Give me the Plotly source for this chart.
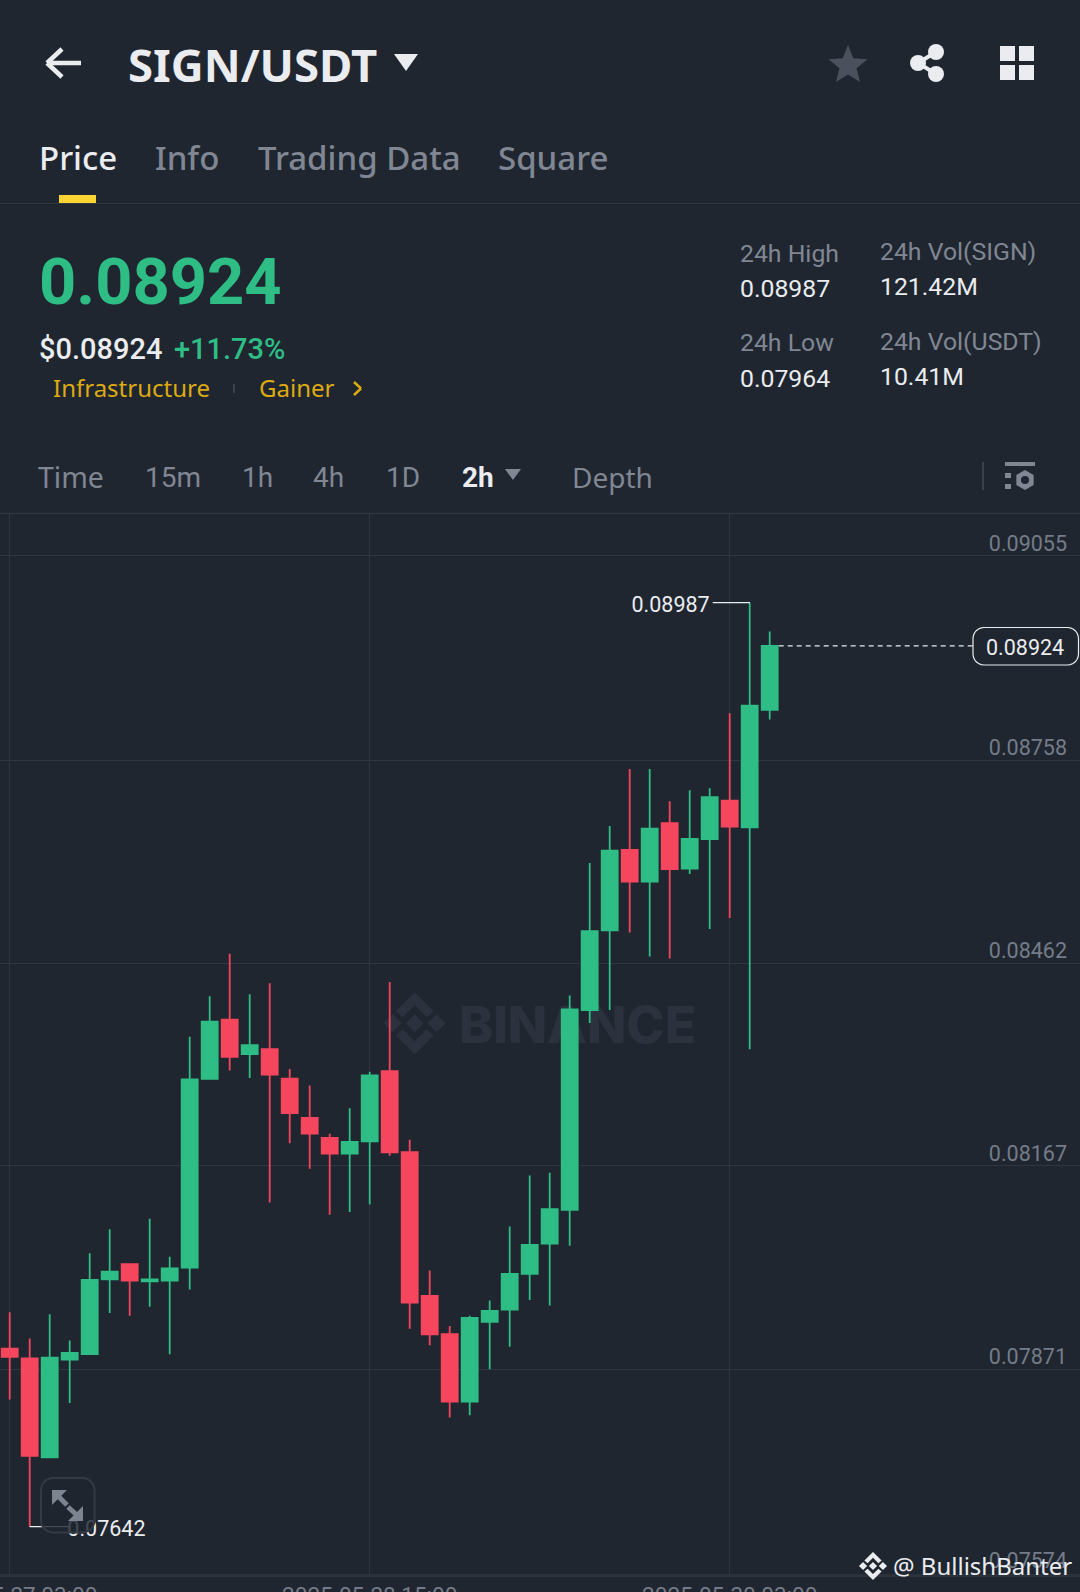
import math
import pandas as pd
import plotly.graph_objects as go

W, H = 1080, 1592
BG = "#1F2630"
GREEN = "#2EBD85"
RED = "#F6465D"
GRID = "#2F3640"
GRAY = "#808793"
AXIS_GRAY = "#757C88"
WHITE = "#EAECEF"
GOLD = "#DDAA10"
NOTO = "Noto Sans"

times = [t.strftime("%Y-%m-%d %H:%M") for t in pd.date_range("2025-05-27 03:00", periods=39, freq="2h")]
opens = [0.07901, 0.07887, 0.07743, 0.07885, 0.07893, 0.08002, 0.08024, 0.07999, 0.08000, 0.08019,
         0.08294, 0.08380, 0.08330, 0.08337, 0.08294, 0.08237, 0.08208, 0.08185, 0.08203, 0.08305,
         0.08187, 0.07978, 0.07922, 0.07824, 0.07940, 0.07958, 0.08010, 0.08054, 0.08103, 0.08394,
         0.08510, 0.08627, 0.08581, 0.08666, 0.08600, 0.08643, 0.08699, 0.08660, 0.08831]
closes = [0.07889, 0.07745, 0.07888, 0.07895, 0.08001, 0.08013, 0.08000, 0.08002, 0.08018, 0.08293,
          0.08377, 0.08326, 0.08343, 0.08300, 0.08244, 0.08214, 0.08185, 0.08202, 0.08299, 0.08187,
          0.07968, 0.07922, 0.07824, 0.07946, 0.07956, 0.08010, 0.08052, 0.08104, 0.08395, 0.08509,
          0.08626, 0.08581, 0.08658, 0.08599, 0.08643, 0.08704, 0.08661, 0.08837, 0.08924]
highs = [0.07954, 0.07916, 0.07951, 0.07913, 0.08040, 0.08075, 0.08024, 0.08090, 0.08035, 0.08355,
         0.08414, 0.08476, 0.08417, 0.08433, 0.08308, 0.08284, 0.08214, 0.08251, 0.08304, 0.08435,
         0.08205, 0.08015, 0.07934, 0.07949, 0.07971, 0.08079, 0.08153, 0.08157, 0.08415, 0.08608,
         0.08662, 0.08745, 0.08745, 0.08698, 0.08714, 0.08717, 0.08826, 0.08987, 0.08945]
lows = [0.07827, 0.07642, 0.07743, 0.07822, 0.07893, 0.07953, 0.07949, 0.07962, 0.07893, 0.07987,
        0.08294, 0.08306, 0.08295, 0.08114, 0.08200, 0.08163, 0.08096, 0.08100, 0.08111, 0.08182,
        0.07930, 0.07906, 0.07801, 0.07804, 0.07871, 0.07904, 0.07972, 0.07964, 0.08051, 0.08375,
        0.08394, 0.08507, 0.08472, 0.08469, 0.08592, 0.08512, 0.08528, 0.08337, 0.08817]

price_ticks = [0.07574, 0.07871, 0.08167, 0.08462, 0.08758, 0.09055]
price_tick_text = ["0.07574", "0.07871", "0.08167", "0.08462", "0.08758", "0.09055"]
time_ticks = [times[0], times[18], times[36]]
last_price = 0.08924
high_price = 0.08987
low_price = 0.07642


def px(x):
    return x / W


def py(y):
    return 1 - y / H


def poly(points):
    return "M" + " L".join(f"{px(a):.5f},{py(b):.5f}" for a, b in points) + " Z"


def rounded(x0, y0, x1, y1, r):
    n = 6
    pts = []
    for cx, cy, start in [(x1 - r, y0 + r, -90), (x1 - r, y1 - r, 0), (x0 + r, y1 - r, 90), (x0 + r, y0 + r, 180)]:
        for i in range(n + 1):
            a = math.radians(start + 90 * i / n)
            pts.append((cx + r * math.cos(a), cy + r * math.sin(a)))
    return poly(pts)


shapes = []
annots = []


def fill(points, color, layer="above"):
    shapes.append(dict(type="path", path=poly(points), xref="paper", yref="paper",
                       fillcolor=color, line=dict(width=0), layer=layer))


def seg(x0, y0, x1, y1, color, width=1, dash="solid"):
    shapes.append(dict(type="line", xref="paper", yref="paper", x0=px(x0), y0=py(y0), x1=px(x1), y1=py(y1),
                       line=dict(color=color, width=width, dash=dash), layer="above"))


def dot(cx, cy, r, color):
    shapes.append(dict(type="circle", xref="paper", yref="paper", x0=px(cx - r), x1=px(cx + r),
                       y0=py(cy - r), y1=py(cy + r), fillcolor=color, line=dict(width=0), layer="above"))


def text(x, y, s, size, color, weight=400, anchor="left", family="Roboto"):
    annots.append(dict(x=px(x), y=py(y), xref="paper", yref="paper", text=s, showarrow=False,
                       xanchor=anchor, yanchor="middle", borderpad=0,
                       font=dict(size=size, color=color, family=family, weight=weight)))


def logo(cx, cy, s, color, layer):
    k = s / 31
    fill([(cx, cy - 9 * k), (cx + 9 * k, cy), (cx, cy + 9 * k), (cx - 9 * k, cy)], color, layer)
    fill([(cx - 31 * k, cy), (cx - 22 * k, cy - 9 * k), (cx - 13 * k, cy), (cx - 22 * k, cy + 9 * k)], color, layer)
    fill([(cx + 31 * k, cy), (cx + 22 * k, cy - 9 * k), (cx + 13 * k, cy), (cx + 22 * k, cy + 9 * k)], color, layer)
    fill([(cx, cy - 31 * k), (cx + 19 * k, cy - 12 * k), (cx + 12 * k, cy - 6 * k), (cx, cy - 18 * k),
          (cx - 12 * k, cy - 6 * k), (cx - 19 * k, cy - 12 * k)], color, layer)
    fill([(cx, cy + 31 * k), (cx + 19 * k, cy + 12 * k), (cx + 12 * k, cy + 6 * k), (cx, cy + 18 * k),
          (cx - 12 * k, cy + 6 * k), (cx - 19 * k, cy + 12 * k)], color, layer)


# header chrome
seg(47, 63, 81, 63, WHITE, 4.5)
seg(62, 49, 47, 63, WHITE, 4.5)
seg(47, 63, 62, 77, WHITE, 4.5)
text(127, 64, "SIGN/USDT", 45.5, WHITE, 700, family=NOTO)
fill([(394, 54), (418, 54), (406, 71)], WHITE)
star = []
for i in range(10):
    r = 20.5 if i % 2 == 0 else 9
    a = math.radians(-90 + 36 * i)
    star.append((848 + r * math.cos(a), 65.5 + r * math.sin(a)))
fill(star, "#4A515C")
seg(918, 63, 936, 52, WHITE, 4)
seg(918, 63, 936, 74, WHITE, 4)
dot(918, 63, 8, WHITE)
dot(936, 52, 8, WHITE)
dot(936, 74, 8, WHITE)
for x0 in (1000, 1019):
    for y0 in (46, 65):
        fill([(x0, y0), (x0 + 15, y0), (x0 + 15, y0 + 15), (x0, y0 + 15)], WHITE)

text(38, 157, "Price", 33, WHITE, 500, family=NOTO)
text(154, 157, "Info", 33, GRAY, 500, family=NOTO)
text(257, 157, "Trading Data", 33, GRAY, 500, family=NOTO)
text(497, 157, "Square", 33, GRAY, 500, family=NOTO)
fill([(59, 195), (96, 195), (96, 203), (59, 203)], "#FCD535")
seg(0, 203.5, W, 203.5, GRID, 1)

text(38, 282, "0.08924", 65, GREEN, 700)
text(38, 349, "$0.08924", 29, WHITE, 500)
text(173, 349, "+11.73%", 29, GREEN, 500)
text(52, 387, "Infrastructure", 24, GOLD, family=NOTO)
seg(234, 384, 234, 393, "#3A414C", 2)
text(258, 387, "Gainer", 24, GOLD, family=NOTO)
seg(354, 382, 361, 388.5, GOLD, 2.5)
seg(361, 388.5, 354, 395, GOLD, 2.5)

text(739, 253, "24h High", 24.8, GRAY)
text(739, 288, "0.08987", 24.8, WHITE)
text(739, 343, "24h Low", 24.8, GRAY)
text(739, 378, "0.07964", 24.8, WHITE)
text(879, 252, "24h Vol(SIGN)", 24.8, GRAY)
text(879, 286, "121.42M", 24.8, WHITE)
text(879, 342, "24h Vol(USDT)", 24.8, GRAY)
text(879, 376, "10.41M", 24.8, WHITE)

text(37, 477, "Time", 28.5, GRAY, family=NOTO)
text(144, 477, "15m", 28, GRAY)
text(241, 477, "1h", 28, GRAY)
text(312, 477, "4h", 28, GRAY)
text(385, 477, "1D", 28, GRAY)
text(461, 477, "2h", 28, WHITE, 700)
fill([(505, 469), (521, 469), (513, 480)], GRAY)
text(571, 477, "Depth", 28, GRAY, family=NOTO)
seg(983, 462, 983, 490, "#3A414C", 2)
fill([(1005, 462), (1035, 462), (1035, 466), (1005, 466)], GRAY)
fill([(1005, 473), (1011, 473), (1011, 478), (1005, 478)], GRAY)
fill([(1005, 484), (1011, 484), (1011, 489), (1005, 489)], GRAY)
hexa = [(1025 + 10 * math.cos(math.radians(30 + 60 * i)), 480 + 10 * math.sin(math.radians(30 + 60 * i))) for i in range(6)]
fill(hexa, GRAY)
dot(1025, 480, 4, BG)
seg(0, 513.5, W, 513.5, GRID, 1.5)

# watermark under the candles
logo(414.7, 1023.3, 31, "#2B323D", "below")
shapes.append(dict(type="rect", xref="paper", yref="paper", x0=px(455), x1=px(700), y0=py(1042), y1=py(1002),
                   line=dict(width=0), fillcolor="rgba(0,0,0,0)", layer="below",
                   label=dict(text="BINANCE", textposition="middle center",
                              font=dict(family="Inter", size=51.5, weight=800, color="#2B323D"))))

# chart overlays
shapes.append(dict(type="line", xref="paper", yref="y", x0=px(712.7), x1=px(750), y0=high_price, y1=high_price,
                   line=dict(color=WHITE, width=1.2), layer="above"))
shapes.append(dict(type="line", xref="paper", yref="y", x0=px(29.6), x1=px(69), y0=low_price, y1=low_price,
                   line=dict(color=WHITE, width=1.2), layer="above"))
shapes.append(dict(type="line", xref="paper", yref="y", x0=px(778.7), x1=px(972.7), y0=last_price, y1=last_price,
                   line=dict(color=WHITE, width=1.2, dash="5px,4px"), layer="above"))
shapes.append(dict(type="path", path=rounded(973, 627.5, 1078.5, 665, 11), xref="paper", yref="paper",
                   fillcolor=BG, line=dict(color=WHITE, width=1.2), layer="above"))
text(1025, 647.5, "0.08924", 21.5, WHITE, anchor="center")

# expand button over the low label
shapes.append(dict(type="path", path=rounded(41, 1478, 94.5, 1532.5, 12), xref="paper", yref="paper",
                   fillcolor="rgba(31,38,48,0.82)", line=dict(color="#333A45", width=2), layer="above"))
seg(55, 1493, 67, 1505, "#7C8490", 5)
seg(68, 1507, 80, 1518, "#7C8490", 5)
fill([(52, 1490), (67, 1490), (52, 1505)], "#7C8490")
fill([(83, 1521), (68, 1521), (83, 1506)], "#7C8490")

# attribution
logo(873, 1566, 14, WHITE, "above")
text(892, 1565, "@ BullishBanter", 24, WHITE, family=NOTO)

t0 = pd.Timestamp(times[0])
step = pd.Timedelta(hours=2)
x0 = t0 + step * (-9.7 / 20)
x1 = t0 + step * ((W - 9.7) / 20)
y_scale = 1.45577e-5
y_lo = 0.07871 - (1573.5 - 1369.3) * y_scale
y_hi = 0.07871 + (1369.3 - 513) * y_scale
label_drop = 4 * y_scale

fig = go.Figure()
fig.add_trace(go.Candlestick(
    x=times, open=opens, high=highs, low=lows, close=closes,
    increasing=dict(line=dict(color=GREEN, width=1.8), fillcolor=GREEN),
    decreasing=dict(line=dict(color=RED, width=1.8), fillcolor=RED),
    hoverinfo="skip", showlegend=False))
fig.add_trace(go.Scatter(
    x=[times[35], pd.Timestamp(times[3]) - pd.Timedelta(minutes=14)],
    y=[high_price - label_drop, low_price - label_drop], mode="text",
    text=["0.08987", "0.07642"], textposition=["middle left", "middle right"],
    textfont=dict(family="Roboto", size=21.5, color=WHITE), hoverinfo="skip", showlegend=False))

fig.update_layout(
    width=W, height=H, margin=dict(l=0, r=0, t=0, b=0),
    paper_bgcolor=BG, plot_bgcolor=BG, showlegend=False, boxgap=0.2, boxgroupgap=0,
    shapes=shapes, annotations=annots, dragmode=False,
    font=dict(family="Roboto"),
    xaxis=dict(
        domain=[0, 1], type="date", range=[x0, x1], rangeslider=dict(visible=False),
        tickmode="array", tickvals=time_ticks, ticktext=time_ticks,
        showgrid=True, gridcolor=GRID, gridwidth=1, zeroline=False,
        showline=True, linecolor="#2B323C", linewidth=2.5, ticks="",
        tickfont=dict(family="Roboto", size=22.5, color=AXIS_GRAY),
        ticklabelstandoff=0, ticklabeloverflow="allow", automargin=False),
    yaxis=dict(
        domain=[1 - 1573.5 / H, 1 - 513 / H], range=[y_lo, y_hi], side="right",
        tickmode="array", tickvals=price_ticks, ticktext=price_tick_text,
        showgrid=True, gridcolor=GRID, gridwidth=1, zeroline=False, showline=False, ticks="",
        ticklabelposition="inside", ticklabelshift=-13, ticklabelstandoff=10, ticklabeloverflow="allow",
        tickfont=dict(family="Roboto", size=21.5, color=AXIS_GRAY), automargin=False),
)

fig.write_html("out.html", config=dict(displayModeBar=False),
               post_script="document.body.style.margin='0';document.body.style.overflow='hidden';")
